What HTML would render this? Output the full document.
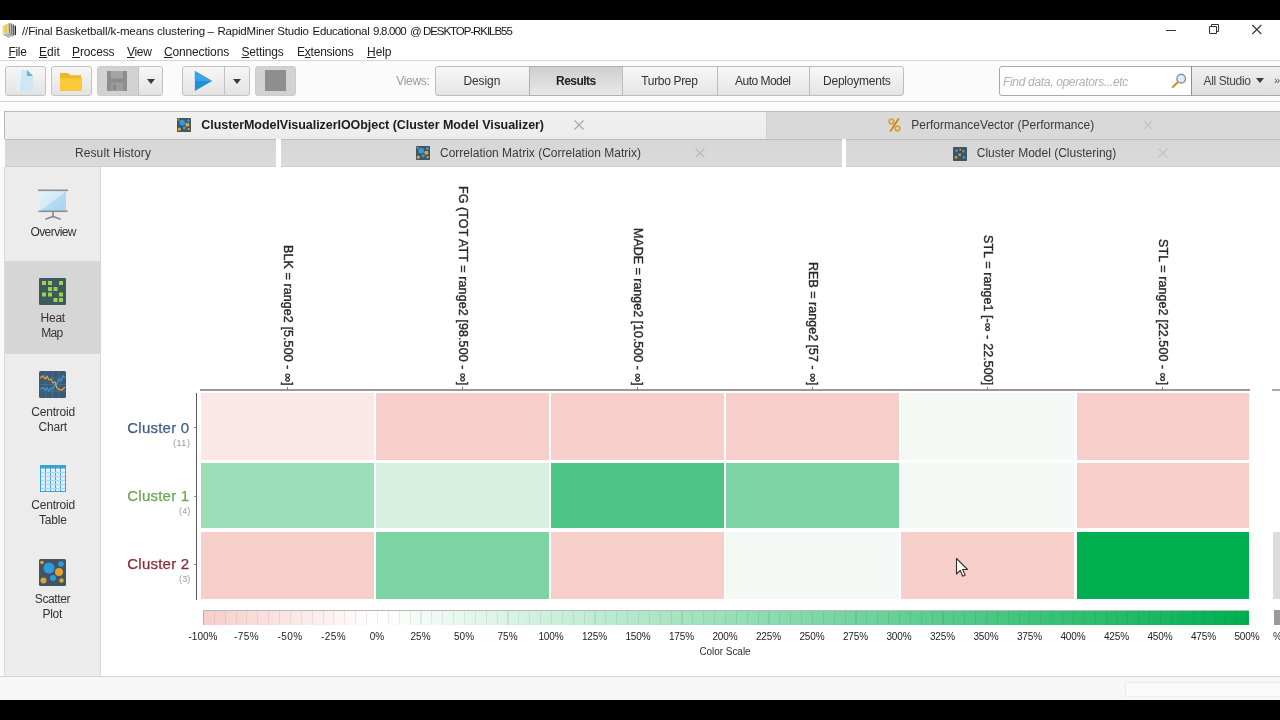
<!DOCTYPE html>
<html>
<head>
<meta charset="utf-8">
<title>RapidMiner Studio</title>
<style>
html,body{margin:0;padding:0;}
body{width:1280px;height:720px;background:#000;overflow:hidden;position:relative;font-family:"Liberation Sans",sans-serif;color:#222;}
.a{position:absolute;}
.t{position:absolute;white-space:nowrap;}
._cl{-webkit-text-stroke:0.250px currentColor;}
.t u{text-decoration:underline;text-underline-offset:1px;}
#win{position:absolute;left:0;top:20px;width:1280px;height:680px;background:#fff;}
.btn{position:absolute;top:66px;height:30px;border:1px solid #c2c2c2;border-radius:3px;background:linear-gradient(#f7f7f7,#e3e3e3);box-sizing:border-box;}
.btn.dis{background:#d2d2d2;border-color:#cbcbcb;}
.vbtn{position:absolute;top:66px;height:30px;border:1px solid #bdbdbd;background:linear-gradient(#f8f8f8,#e4e4e4);box-sizing:border-box;}
.vbtn.sel{background:linear-gradient(#cfcfcf,#e8e8e8);border-color:#b0b0b0;}
.vt{position:absolute;white-space:nowrap;font-size:12.5px;line-height:14px;color:#2a2a2a;-webkit-text-stroke:0.400px #2a2a2a;transform-origin:0 0;transform:rotate(90deg);}
</style>
</head>
<body>
<div id="win"></div>
<!-- title bar icons -->
<svg class="a" style="left:1px;top:22px" width="17" height="17" viewBox="0 0 17 17">
  <defs><linearGradient id="lg" x1="0" y1="0" x2="1" y2="0"><stop offset="0" stop-color="#f3df7a"/><stop offset="0.550" stop-color="#e3c84a"/><stop offset="1" stop-color="#f0e6a8"/></linearGradient></defs>
  <path d="M1.500 4L8 1.200V10.800L1.500 11.200Z" fill="url(#lg)"/>
  <path d="M8.300 1V11.500" stroke="#6d6d5a" stroke-width="1"/>
  <path d="M10.200 1.600V12.600" stroke="#4a4a4a" stroke-width="1.100"/>
  <path d="M12.200 2.600V13.200" stroke="#333" stroke-width="1.200"/>
  <path d="M14.300 3.800V13" stroke="#1c1c1c" stroke-width="1.300"/>
  <path d="M1.800 12L8.200 15.600M3.600 11.700L9.800 15M5.600 11.500L11.400 14.400M7.600 11.400L13 13.800" stroke="#8a8a8a" stroke-width="0.900"/>
</svg>
<div class="a" style="left:1166px;top:30px;width:10px;height:1px;background:#333"></div>
<svg class="a" style="left:1207.500px;top:23.300px" width="12" height="12" viewBox="0 0 12 12"><path d="M1.500 3.500h7v7h-7z M3.500 3.500v-2h7v7h-2" fill="none" stroke="#333" stroke-width="1"/></svg>
<svg class="a" style="left:1251px;top:24px" width="12" height="12" viewBox="0 0 12 12"><path d="M1.300 1L10.300 10M10.300 1L1.300 10" fill="none" stroke="#333" stroke-width="1.100"/></svg>

<!-- toolbar -->
<div class="a" style="left:0;top:60px;width:1280px;height:42px;background:#fbfbfb;border-top:1px solid #d6d6d6;border-bottom:1px solid #d4d4d4;box-sizing:border-box"></div>
<div class="a" style="left:0;top:102px;width:1280px;height:10px;background:#fbfbfb"></div>
<div class="btn" style="left:5px;width:41px"></div>
<div class="btn" style="left:51px;width:41px"></div>
<div class="btn dis" style="left:97px;width:42px;border-radius:3px 0 0 3px"></div>
<div class="btn" style="left:138px;width:25px;border-radius:0 3px 3px 0"></div>
<div class="btn" style="left:182px;width:43px;border-radius:3px 0 0 3px"></div>
<div class="btn" style="left:224px;width:26px;border-radius:0 3px 3px 0"></div>
<div class="btn dis" style="left:255px;width:41px"></div>
<svg class="a" style="left:14px;top:69px" width="22" height="24" viewBox="0 0 22 24"><path d="M3 1h10l6 6v15H3z" fill="#cfe6f3"/><path d="M13 1l6 6h-6z" fill="#6db3d8"/><path d="M3 1h5l-3 21H3z" fill="#e6f3fa"/></svg>
<svg class="a" style="left:59px;top:71px" width="24" height="21" viewBox="0 0 24 20" preserveAspectRatio="none"><path d="M1 2h8l2 2h11v15H1z" fill="#f1b526"/><path d="M1 7h22v12H1z" fill="#fbc93b"/></svg>
<svg class="a" style="left:106px;top:70px" width="22" height="22" viewBox="0 0 22 21" preserveAspectRatio="none"><path d="M1 1h20v19H1z" fill="#8d8d8d"/><path d="M5 1h12v7H5z" fill="#a5a5a5"/><path d="M5 12h12v8H5z" fill="#9c9c9c"/><path d="M7 14h3v5H7z" fill="#858585"/></svg>
<svg class="a" style="left:146.700px;top:79px" width="8" height="5" viewBox="0 0 8 5"><path d="M0 0h8L4 5z" fill="#3a3a3a"/></svg>
<svg class="a" style="left:194px;top:71px" width="19" height="20" viewBox="0 0 21 22" preserveAspectRatio="none"><path d="M1 0L20 11L1 22z" fill="#1f8fd8"/><path d="M1 0L20 11L1 11z" fill="#3aa3e6"/></svg>
<svg class="a" style="left:232.500px;top:79px" width="8" height="5" viewBox="0 0 8 5"><path d="M0 0h8L4 5z" fill="#3a3a3a"/></svg>
<div class="a" style="left:265px;top:70px;width:21px;height:21px;background:#8e8e8e"></div>

<div class="vbtn" style="left:435px;width:95px;border-radius:3px 0 0 3px"></div>
<div class="vbtn sel" style="left:529px;width:94px"></div>
<div class="vbtn" style="left:622px;width:96px"></div>
<div class="vbtn" style="left:717px;width:93px"></div>
<div class="vbtn" style="left:809px;width:95px;border-radius:0 3px 3px 0"></div>

<div class="a" style="left:999px;top:66px;width:193px;height:30px;box-sizing:border-box;border:1px solid #a8a8a8;border-radius:3px 0 0 3px;background:#fff"></div>
<svg class="a" style="left:1170px;top:72px" width="18" height="18" viewBox="0 0 18 18"><circle cx="11.200" cy="6.700" r="4.300" fill="#d8eef8" stroke="#7d8a94" stroke-width="1.300"/><path d="M7.800 10.200L2.800 15" stroke="#c99a3a" stroke-width="2.400" stroke-linecap="round"/></svg>
<div class="a" style="left:1191px;top:66px;width:100px;height:30px;box-sizing:border-box;border:1px solid #a8a8a8;border-left:1px solid #8e8e8e;background:linear-gradient(#f0f0f0,#dedede)"></div>
<svg class="a" style="left:1256px;top:78px" width="8" height="5" viewBox="0 0 8 5"><path d="M0 0h8L4 5z" fill="#3a3a3a"/></svg>

<!-- tabs row 1 -->
<div class="a" style="left:4px;top:111px;width:763px;height:28px;box-sizing:border-box;background:linear-gradient(#f1f1f1,#ececec);border:1px solid #b9b9b9;border-bottom:none;border-right-color:#d0d0d0"></div>
<div class="a" style="left:767px;top:111px;width:513px;height:28px;box-sizing:border-box;background:#d9d9d9;border-top:1px solid #bcbcbc"></div>
<!-- tabs row 2 -->
<div class="a" style="left:5px;top:139px;width:271px;height:28px;box-sizing:border-box;background:linear-gradient(#d6d6d6,#dbdbdb);border-top:1px solid #bdbdbd;border-bottom:1px solid #cdcdcd"></div>
<div class="a" style="left:280.500px;top:139px;width:561.500px;height:28px;box-sizing:border-box;background:linear-gradient(#d6d6d6,#dbdbdb);border-top:1px solid #bdbdbd;border-bottom:1px solid #cdcdcd"></div>
<div class="a" style="left:846px;top:139px;width:434px;height:28px;box-sizing:border-box;background:linear-gradient(#d6d6d6,#dbdbdb);border-top:1px solid #bdbdbd;border-bottom:1px solid #cdcdcd"></div>
<!-- close X -->
<svg class="a" style="left:573.500px;top:120px" width="10" height="10" viewBox="0 0 10 10"><path d="M0.500 0.500L9.500 9.500M9.500 0.500L0.500 9.500" stroke="#a8a8a8" stroke-width="1.300"/></svg>
<svg class="a" style="left:695.300px;top:148.200px" width="10" height="10" viewBox="0 0 10 10"><path d="M0.500 0.500L9.500 9.500M9.500 0.500L0.500 9.500" stroke="#bcbcbc" stroke-width="1.300"/></svg>
<svg class="a" style="left:1142.500px;top:120px" width="10" height="10" viewBox="0 0 10 10"><path d="M0.500 0.500L9.500 9.500M9.500 0.500L0.500 9.500" stroke="#c4c4c4" stroke-width="1.300"/></svg>
<svg class="a" style="left:1157.800px;top:148.200px" width="10" height="10" viewBox="0 0 10 10"><path d="M0.500 0.500L9.500 9.500M9.500 0.500L0.500 9.500" stroke="#c4c4c4" stroke-width="1.300"/></svg>

<!-- sidebar -->
<div class="a" style="left:0;top:167px;width:4px;height:510px;background:#fafafa"></div>
<div class="a" style="left:3.500px;top:167px;width:97.500px;height:509px;box-sizing:border-box;background:#ececec;border-right:1px solid #d8d8d8;border-left:1px solid #dadada"></div>
<div class="a" style="left:4.500px;top:261px;width:95.500px;height:92.500px;background:#d6d6d6"></div>

<!-- status -->
<div class="a" style="left:0;top:676px;width:1280px;height:24px;box-sizing:border-box;background:#f7f7f7;border-top:1px solid #d4d4d4"></div>
<div class="a" style="left:1125px;top:682px;width:160px;height:15px;box-sizing:border-box;background:#fafafa;border:1px solid #ebebeb;border-radius:2px"></div>

<!-- sidebar icons -->
<svg class="a" style="left:36px;top:188px" width="34" height="32" viewBox="0 0 34 32">
  <defs><linearGradient id="ov" x1="0" y1="0" x2="1" y2="1"><stop offset="0" stop-color="#e3f2fa"/><stop offset="0.500" stop-color="#d2eaf7"/><stop offset="0.510" stop-color="#b4dbf1"/><stop offset="1" stop-color="#a9d5ee"/></linearGradient></defs>
  <rect x="4" y="3" width="26" height="20" fill="url(#ov)"/>
  <rect x="2" y="1.500" width="30" height="1.600" fill="#8a8f94"/>
  <rect x="2.500" y="22.500" width="29" height="1.600" fill="#8a8f94"/>
  <path d="M17 24v4.500M17 28.500l-7 2.500M17 28.500l7 2.500" stroke="#80868b" stroke-width="1.600" fill="none" stroke-linecap="round"/>
</svg>
<svg class="a" style="left:39px;top:278px" width="27" height="27" viewBox="0 0 27 27">
  <rect width="27" height="27" rx="1" fill="#3f5761"/>
  <g fill="#9ed04f">
    <rect x="3" y="3" width="4" height="4"/><rect x="9" y="3" width="4" height="4"/><rect x="20" y="3" width="4" height="4"/>
    <rect x="9" y="9" width="4" height="4"/><rect x="14.500" y="9" width="4" height="4"/>
    <rect x="3" y="14.500" width="4" height="4"/><rect x="9" y="14.500" width="4" height="4"/><rect x="20" y="14.500" width="4" height="4"/>
    <rect x="14.500" y="20" width="4" height="4"/><rect x="20" y="20" width="4" height="4"/>
  </g>
  <g fill="#35624f"><rect x="14.500" y="3" width="4" height="4"/><rect x="3" y="9" width="4" height="4"/><rect x="20" y="9" width="4" height="4"/><rect x="14.500" y="14.500" width="4" height="4"/><rect x="3" y="20" width="4" height="4"/><rect x="9" y="20" width="4" height="4"/></g>
</svg>
<svg class="a" style="left:39px;top:371px" width="27" height="27" viewBox="0 0 27 27">
  <rect width="27" height="27" rx="1.500" fill="#3b5a76"/>
  <path d="M0 7h27M0 13.500h27M0 20h27M7 0v27M13.500 0v27M20 0v27" stroke="#4e6f8c" stroke-width="0.800"/>
  <path d="M1 18L4 16.500L6 19L8 17L10 20L12 17L14 18L16 14L18 12L20 8L22 10L24 5L26 6" stroke="#3b97d3" stroke-width="1.300" fill="none"/>
  <path d="M1 7L4 5L6 8L8 5.500L10 9L12 8L14 12L16 11L18 17L20 18.500L23 19L26 16" stroke="#dca040" stroke-width="1.300" fill="none"/>
</svg>
<svg class="a" style="left:40px;top:465px" width="26" height="27" viewBox="0 0 26 27">
  <rect x="0.500" y="0.500" width="25" height="26" fill="#e4f3fb" stroke="#3aa0d8" stroke-width="1"/>
  <rect x="0.500" y="0.500" width="25" height="3" fill="#3aa0d8"/>
  <path d="M5.500 3v24M10.500 3v24M15.500 3v24M20.500 3v24" stroke="#3aa0d8" stroke-width="1"/>
  <path d="M1 7.500h24M1 11.500h24M1 15.500h24M1 19.500h24M1 23.500h24" stroke="#a9d8f0" stroke-width="1.400"/>
</svg>
<svg class="a" style="left:39px;top:559px" width="27" height="27" viewBox="0 0 27 27">
  <rect width="27" height="27" rx="1.500" fill="#425460"/>
  <circle cx="10" cy="9" r="5.500" fill="#2f9be0"/>
  <circle cx="22" cy="5" r="2.800" fill="#2f9be0"/>
  <circle cx="14" cy="19" r="3" fill="#2f9be0"/>
  <circle cx="20" cy="13" r="4" fill="#e8a02c"/>
  <circle cx="4.500" cy="21.500" r="3" fill="#d9a63a"/>
  <circle cx="22.500" cy="21.500" r="2.200" fill="#d9a63a"/>
  <circle cx="3" cy="3.500" r="1.800" fill="#d9a63a"/>
</svg>
<!-- tab icons -->
<svg class="a" style="left:177px;top:118px" width="14" height="14" viewBox="0 0 27 27">
  <rect width="27" height="27" rx="1.500" fill="#425460"/>
  <circle cx="10" cy="9" r="5.500" fill="#2f9be0"/><circle cx="22" cy="5" r="2.800" fill="#2f9be0"/><circle cx="14" cy="19" r="3" fill="#2f9be0"/>
  <circle cx="20" cy="13" r="4" fill="#e8a02c"/><circle cx="4.500" cy="21.500" r="3" fill="#d9a63a"/><circle cx="22.500" cy="21.500" r="2.200" fill="#d9a63a"/><circle cx="3" cy="3.500" r="1.800" fill="#d9a63a"/>
</svg>
<svg class="a" style="left:416px;top:146px" width="14" height="14" viewBox="0 0 27 27">
  <rect width="27" height="27" rx="1.500" fill="#425460"/>
  <circle cx="10" cy="9" r="5.500" fill="#2f9be0"/><circle cx="22" cy="5" r="2.800" fill="#2f9be0"/><circle cx="14" cy="19" r="3" fill="#2f9be0"/>
  <circle cx="20" cy="13" r="4" fill="#e8a02c"/><circle cx="4.500" cy="21.500" r="3" fill="#d9a63a"/><circle cx="22.500" cy="21.500" r="2.200" fill="#d9a63a"/><circle cx="3" cy="3.500" r="1.800" fill="#d9a63a"/>
</svg>
<svg class="a" style="left:953px;top:147px" width="14" height="14" viewBox="0 0 27 27">
  <rect width="27" height="27" rx="1.500" fill="#425460"/>
  <circle cx="7" cy="7" r="2.500" fill="#2f9be0"/><circle cx="20" cy="8" r="2.500" fill="#2f9be0"/><circle cx="13" cy="15" r="2.500" fill="#e8a02c"/>
  <circle cx="6" cy="20" r="2.500" fill="#d9a63a"/><circle cx="21" cy="20" r="2.500" fill="#2f9be0"/><circle cx="14" cy="5" r="1.800" fill="#d9a63a"/>
</svg>
<svg class="a" style="left:888px;top:118px" width="13" height="14" viewBox="0 0 13 14">
  <circle cx="3.500" cy="3.500" r="2.300" fill="none" stroke="#d9a232" stroke-width="1.800"/>
  <circle cx="9.500" cy="10.500" r="2.300" fill="none" stroke="#d9a232" stroke-width="1.800"/>
  <path d="M10.500 1L2.500 13" stroke="#c48a1e" stroke-width="1.800" stroke-linecap="round"/>
</svg>

<div class="a" style="left:200px;top:389.200px;width:1050px;height:1.500px;background:#999"></div>
<div class="a" style="left:195.800px;top:392.500px;width:1.500px;height:207px;background:#5a5a5a"></div>
<div class="a" style="left:201.0px;top:393.3px;width:172.600px;height:66.9px;background:#fbe7e5"></div>
<div class="a" style="left:376.1px;top:393.3px;width:172.600px;height:66.9px;background:#f6cfcb"></div>
<div class="a" style="left:551.2px;top:393.3px;width:172.600px;height:66.9px;background:#f6cfcb"></div>
<div class="a" style="left:726.3px;top:393.3px;width:172.600px;height:66.9px;background:#f6cfcb"></div>
<div class="a" style="left:901.4px;top:393.3px;width:172.600px;height:66.9px;background:#f5f9f6"></div>
<div class="a" style="left:1076.5px;top:393.3px;width:172.600px;height:66.9px;background:#f6cfcb"></div>
<div class="a" style="left:201.0px;top:463.2px;width:172.600px;height:65.3px;background:#9bdeb8"></div>
<div class="a" style="left:376.1px;top:463.2px;width:172.600px;height:65.3px;background:#d7f0e2"></div>
<div class="a" style="left:551.2px;top:463.2px;width:172.600px;height:65.3px;background:#4ec585"></div>
<div class="a" style="left:726.3px;top:463.2px;width:172.600px;height:65.3px;background:#7cd3a4"></div>
<div class="a" style="left:901.4px;top:463.2px;width:172.600px;height:65.3px;background:#f5f9f6"></div>
<div class="a" style="left:1076.5px;top:463.2px;width:172.600px;height:65.3px;background:#f6cfcb"></div>
<div class="a" style="left:201.0px;top:531.5px;width:172.600px;height:67px;background:#f6cfcb"></div>
<div class="a" style="left:376.1px;top:531.5px;width:172.600px;height:67px;background:#7cd3a4"></div>
<div class="a" style="left:551.2px;top:531.5px;width:172.600px;height:67px;background:#f6cfcb"></div>
<div class="a" style="left:726.3px;top:531.5px;width:172.600px;height:67px;background:#f5f9f6"></div>
<div class="a" style="left:901.4px;top:531.5px;width:172.600px;height:67px;background:#f6cfcb"></div>
<div class="a" style="left:1076.5px;top:531.5px;width:172.600px;height:67px;background:#00b050"></div>
<div class="vt" style="left:294.5px;top:245px;letter-spacing:0.091px">BLK = range2 [5.500 - ∞]</div>
<div class="a" style="left:286.7px;top:386.500px;width:1px;height:3px;background:#777"></div>
<div class="vt" style="left:469.6px;top:186px;letter-spacing:0.093px">FG (TOT ATT = range2 [98.500 - ∞]</div>
<div class="a" style="left:461.8px;top:386.500px;width:1px;height:3px;background:#777"></div>
<div class="vt" style="left:644.7px;top:228px;letter-spacing:-0.014px">MADE = range2 [10.500 - ∞]</div>
<div class="a" style="left:636.9000000000001px;top:386.500px;width:1px;height:3px;background:#777"></div>
<div class="vt" style="left:819.8px;top:262px;letter-spacing:0.019px">REB = range2 [57 - ∞]</div>
<div class="a" style="left:812.0px;top:386.500px;width:1px;height:3px;background:#777"></div>
<div class="vt" style="left:994.9px;top:235.3px;letter-spacing:0.073px">STL = range1 [-∞ - 22.500]</div>
<div class="a" style="left:987.1px;top:386.500px;width:1px;height:3px;background:#777"></div>
<div class="vt" style="left:1170.0px;top:239.3px;letter-spacing:0.083px">STL = range2 [22.500 - ∞]</div>
<div class="a" style="left:1162.2px;top:386.500px;width:1px;height:3px;background:#777"></div>
<div class="a" style="left:193.500px;top:427.2px;width:3px;height:1px;background:#888"></div>
<div class="a" style="left:193.500px;top:495.5px;width:3px;height:1px;background:#888"></div>
<div class="a" style="left:193.500px;top:563.8px;width:3px;height:1px;background:#888"></div>
<div class="a" style="left:203px;top:610px;width:1046px;height:15px;box-sizing:border-box;border-top:1px solid #b9b9b9;border-left:1px solid #d4b9b8;background:linear-gradient(90deg,#f6cecb 0%,#ffffff 16.670%,#00b050 99.500%,#00b050 100%)"></div>
<div class="a" style="left:203px;top:611px;width:1046px;height:14px;background:repeating-linear-gradient(90deg,rgba(0,0,0,0.070) 0,rgba(0,0,0,0.070) 1px,transparent 1px,transparent 10.875px)"></div>
<div class="a" style="left:1272px;top:389.200px;width:8px;height:1.500px;background:#aaa"></div>
<div class="a" style="left:1273px;top:532px;width:7px;height:67px;background:#dcdcdc"></div>
<div class="a" style="left:1274px;top:610px;width:6px;height:15px;background:#9a9a9a"></div>
<svg class="a" style="left:955px;top:557px" width="14" height="21" viewBox="0 0 14 21"><path d="M1.500 1.500V17L5.300 13.400L7.800 19.200L10.200 18.100L7.700 12.500H12.500Z" fill="#fff" stroke="#3a2a2a" stroke-width="1.100" stroke-linejoin="round"/></svg>
<span class="t" style="left:22.00px;top:23.00px;font-size:11.5px;line-height:16px;color:#151515;letter-spacing:-0.116px">//Final Basketball/k-means clustering</span>
<span class="t" style="left:207.50px;top:23.00px;font-size:11.5px;line-height:16px;color:#151515;letter-spacing:1.094px">–</span>
<span class="t" style="left:217.50px;top:23.00px;font-size:11.5px;line-height:16px;color:#151515;letter-spacing:-0.198px">RapidMiner Studio</span>
<span class="t" style="left:312.50px;top:23.00px;font-size:11.5px;line-height:16px;color:#151515;letter-spacing:-0.283px">Educational</span>
<span class="t" style="left:373.00px;top:23.00px;font-size:11.5px;line-height:16px;color:#151515;letter-spacing:-0.768px">9.8.000</span>
<span class="t" style="left:410.00px;top:23.00px;font-size:11.5px;line-height:16px;color:#151515;letter-spacing:-2.188px">@</span>
<span class="t" style="left:423.00px;top:23.00px;font-size:11.5px;line-height:16px;color:#151515;letter-spacing:-1.057px">DESKTOP-RKILB55</span>
<span class="t" style="left:8.50px;top:43.50px;font-size:12px;line-height:16px;color:#222;letter-spacing:-0.340px"><u>F</u>ile</span>
<span class="t" style="left:39.00px;top:43.50px;font-size:12px;line-height:16px;color:#222;letter-spacing:0.074px"><u>E</u>dit</span>
<span class="t" style="left:72.00px;top:43.50px;font-size:12px;line-height:16px;color:#222;letter-spacing:-0.123px"><u>P</u>rocess</span>
<span class="t" style="left:127.00px;top:43.50px;font-size:12px;line-height:16px;color:#222;letter-spacing:-0.328px"><u>V</u>iew</span>
<span class="t" style="left:164.00px;top:43.50px;font-size:12px;line-height:16px;color:#222;letter-spacing:-0.156px"><u>C</u>onnections</span>
<span class="t" style="left:241.50px;top:43.50px;font-size:12px;line-height:16px;color:#222;letter-spacing:-0.172px"><u>S</u>ettings</span>
<span class="t" style="left:297.00px;top:43.50px;font-size:12px;line-height:16px;color:#222;letter-spacing:-0.222px">E<u>x</u>tensions</span>
<span class="t" style="left:367.00px;top:43.50px;font-size:12px;line-height:16px;color:#222;letter-spacing:-0.047px"><u>H</u>elp</span>
<span class="t" style="left:396.25px;top:73.00px;font-size:12px;line-height:16px;color:#9a9a9a;letter-spacing:-0.315px">Views:</span>
<span class="t" style="left:463.40px;top:72.50px;font-size:12px;line-height:16px;color:#333;letter-spacing:-0.077px">Design</span>
<span class="t" style="left:556.00px;top:72.50px;font-size:12px;line-height:16px;color:#222;letter-spacing:-0.516px;font-weight:bold">Results</span>
<span class="t" style="left:641.25px;top:72.50px;font-size:12px;line-height:16px;color:#333;letter-spacing:-0.334px">Turbo Prep</span>
<span class="t" style="left:735.00px;top:72.50px;font-size:12px;line-height:16px;color:#333;letter-spacing:-0.520px">Auto Model</span>
<span class="t" style="left:823.00px;top:72.50px;font-size:12px;line-height:16px;color:#333;letter-spacing:-0.230px">Deployments</span>
<span class="t" style="left:1003.00px;top:73.50px;font-size:12px;line-height:16px;color:#b0b0b0;letter-spacing:-0.323px;font-style:italic">Find data, operators...etc</span>
<span class="t" style="left:1203.50px;top:72.50px;font-size:12px;line-height:16px;color:#444;letter-spacing:-0.370px">All Studio</span>
<span class="t" style="left:201.25px;top:116.50px;font-size:12.5px;line-height:17px;color:#1c1c1c;letter-spacing:-0.048px;font-weight:bold">ClusterModelVisualizerIOObject (Cluster Model Visualizer)</span>
<span class="t" style="left:911.25px;top:117.00px;font-size:12px;line-height:16px;color:#3a3a3a;letter-spacing:0.008px">PerformanceVector (Performance)</span>
<span class="t" style="left:75.00px;top:145.00px;font-size:12px;line-height:16px;color:#3a3a3a;letter-spacing:0.094px">Result History</span>
<span class="t" style="left:440.00px;top:145.00px;font-size:12px;line-height:16px;color:#3a3a3a;letter-spacing:0.007px">Correlation Matrix (Correlation Matrix)</span>
<span class="t" style="left:976.75px;top:145.00px;font-size:12px;line-height:16px;color:#3a3a3a;letter-spacing:0.004px">Cluster Model (Clustering)</span>
<span class="t" style="left:30.40px;top:224.00px;font-size:12px;line-height:16px;color:#333;letter-spacing:-0.552px">Overview</span>
<span class="t" style="left:40.50px;top:310.00px;font-size:12px;line-height:16px;color:#333;letter-spacing:-0.215px">Heat</span>
<span class="t" style="left:41.25px;top:325.00px;font-size:12px;line-height:16px;color:#333;letter-spacing:-0.665px">Map</span>
<span class="t" style="left:31.30px;top:403.50px;font-size:12px;line-height:16px;color:#333;letter-spacing:-0.220px">Centroid</span>
<span class="t" style="left:38.50px;top:418.50px;font-size:12px;line-height:16px;color:#333;letter-spacing:-0.209px">Chart</span>
<span class="t" style="left:31.30px;top:497.00px;font-size:12px;line-height:16px;color:#333;letter-spacing:-0.220px">Centroid</span>
<span class="t" style="left:39.00px;top:512.00px;font-size:12px;line-height:16px;color:#333;letter-spacing:-0.178px">Table</span>
<span class="t" style="left:34.80px;top:590.80px;font-size:12px;line-height:16px;color:#333;letter-spacing:-0.402px">Scatter</span>
<span class="t" style="left:42.50px;top:605.50px;font-size:12px;line-height:16px;color:#333;letter-spacing:-0.322px">Plot</span>
<span class="t" style="left:127.30px;top:417.70px;font-size:15px;line-height:20px;color:#3f5c88;letter-spacing:0.219px;-webkit-text-stroke:0.250px #3f5c88">Cluster 0</span>
<span class="t" style="left:127.30px;top:486.00px;font-size:15px;line-height:20px;color:#6aa650;letter-spacing:0.219px;-webkit-text-stroke:0.250px #6aa650">Cluster 1</span>
<span class="t" style="left:127.30px;top:554.30px;font-size:15px;line-height:20px;color:#8b2a38;letter-spacing:0.219px;-webkit-text-stroke:0.250px #8b2a38">Cluster 2</span>
<span class="t" style="left:172.90px;top:436.80px;font-size:9px;line-height:13px;color:#9a9a9a;letter-spacing:0.564px">(11)</span>
<span class="t" style="left:179.00px;top:505.10px;font-size:9px;line-height:13px;color:#9a9a9a;letter-spacing:0.167px">(4)</span>
<span class="t" style="left:179.00px;top:573.40px;font-size:9px;line-height:13px;color:#9a9a9a;letter-spacing:0.167px">(3)</span>
<span class="t" style="left:188.50px;top:629.80px;font-size:10px;line-height:14px;color:#222;letter-spacing:0.019px">-100%</span>
<span class="t" style="left:233.90px;top:629.80px;font-size:10px;line-height:14px;color:#222;letter-spacing:0.460px">-75%</span>
<span class="t" style="left:277.40px;top:629.80px;font-size:10px;line-height:14px;color:#222;letter-spacing:0.460px">-50%</span>
<span class="t" style="left:320.90px;top:629.80px;font-size:10px;line-height:14px;color:#222;letter-spacing:0.460px">-25%</span>
<span class="t" style="left:369.70px;top:629.80px;font-size:10px;line-height:14px;color:#222;letter-spacing:0.073px">0%</span>
<span class="t" style="left:410.40px;top:629.80px;font-size:10px;line-height:14px;color:#222;letter-spacing:0.061px">25%</span>
<span class="t" style="left:453.90px;top:629.80px;font-size:10px;line-height:14px;color:#222;letter-spacing:0.061px">50%</span>
<span class="t" style="left:497.40px;top:629.80px;font-size:10px;line-height:14px;color:#222;letter-spacing:0.061px">75%</span>
<span class="t" style="left:538.40px;top:629.80px;font-size:10px;line-height:14px;color:#222;letter-spacing:-0.095px">100%</span>
<span class="t" style="left:581.90px;top:629.80px;font-size:10px;line-height:14px;color:#222;letter-spacing:-0.095px">125%</span>
<span class="t" style="left:625.40px;top:629.80px;font-size:10px;line-height:14px;color:#222;letter-spacing:-0.095px">150%</span>
<span class="t" style="left:668.90px;top:629.80px;font-size:10px;line-height:14px;color:#222;letter-spacing:-0.095px">175%</span>
<span class="t" style="left:712.40px;top:629.80px;font-size:10px;line-height:14px;color:#222;letter-spacing:-0.095px">200%</span>
<span class="t" style="left:755.90px;top:629.80px;font-size:10px;line-height:14px;color:#222;letter-spacing:-0.095px">225%</span>
<span class="t" style="left:799.40px;top:629.80px;font-size:10px;line-height:14px;color:#222;letter-spacing:-0.095px">250%</span>
<span class="t" style="left:842.90px;top:629.80px;font-size:10px;line-height:14px;color:#222;letter-spacing:-0.095px">275%</span>
<span class="t" style="left:886.40px;top:629.80px;font-size:10px;line-height:14px;color:#222;letter-spacing:-0.095px">300%</span>
<span class="t" style="left:929.90px;top:629.80px;font-size:10px;line-height:14px;color:#222;letter-spacing:-0.095px">325%</span>
<span class="t" style="left:973.40px;top:629.80px;font-size:10px;line-height:14px;color:#222;letter-spacing:-0.095px">350%</span>
<span class="t" style="left:1016.90px;top:629.80px;font-size:10px;line-height:14px;color:#222;letter-spacing:-0.095px">375%</span>
<span class="t" style="left:1060.40px;top:629.80px;font-size:10px;line-height:14px;color:#222;letter-spacing:-0.095px">400%</span>
<span class="t" style="left:1103.90px;top:629.80px;font-size:10px;line-height:14px;color:#222;letter-spacing:-0.095px">425%</span>
<span class="t" style="left:1147.40px;top:629.80px;font-size:10px;line-height:14px;color:#222;letter-spacing:-0.095px">450%</span>
<span class="t" style="left:1190.90px;top:629.80px;font-size:10px;line-height:14px;color:#222;letter-spacing:-0.095px">475%</span>
<span class="t" style="left:1234.40px;top:629.80px;font-size:10px;line-height:14px;color:#222;letter-spacing:-0.095px">500%</span>
<span class="t" style="left:699.40px;top:645.30px;font-size:10px;line-height:14px;color:#2e2e2e;letter-spacing:-0.046px">Color Scale</span>
<span class="t" style="left:1273.00px;top:629.80px;font-size:10px;line-height:14px;color:#2e2e2e;letter-spacing:0.000px">%</span>
<span class="t" style="left:1274.00px;top:73.00px;font-size:11px;line-height:15px;color:#555;letter-spacing:0.000px">»</span>
</body>
</html>
